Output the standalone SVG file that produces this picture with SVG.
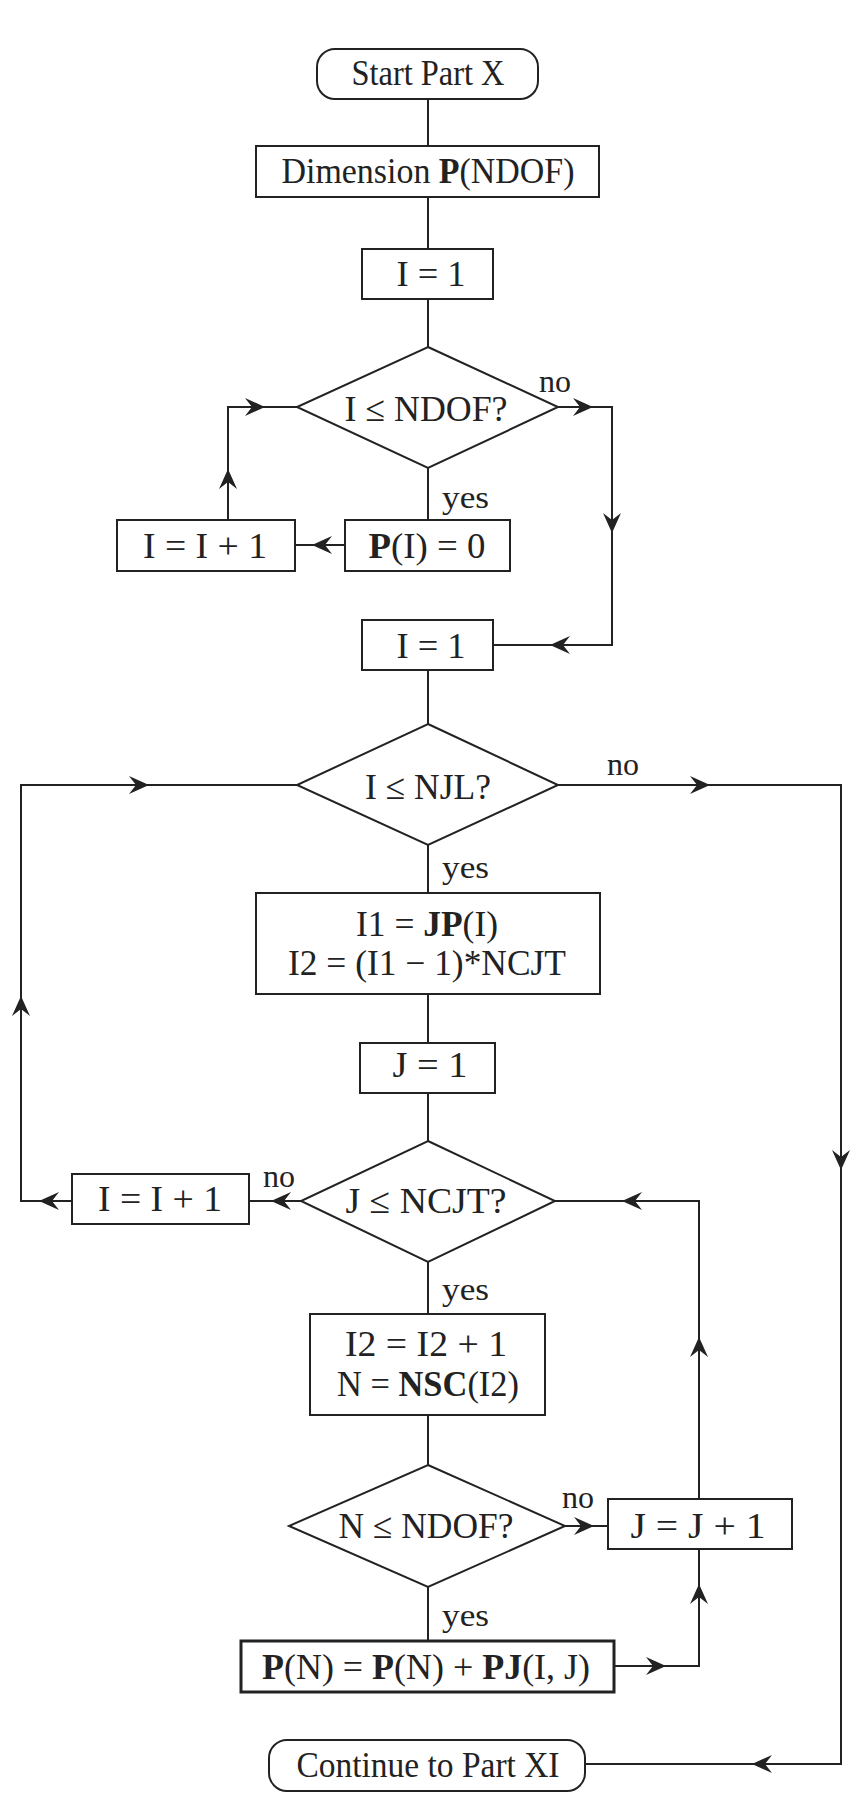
<svg xmlns="http://www.w3.org/2000/svg" xmlns:xlink="http://www.w3.org/1999/xlink" width="855" height="1796" viewBox="0 0 855 1796">
<style>
.s{fill:none;stroke:#222;stroke-width:2}
.t{font-family:"Liberation Serif",serif;font-size:36px;fill:#222;text-anchor:middle}
.l{font-family:"Liberation Serif",serif;font-size:32px;fill:#222}
.b{font-weight:bold}
</style>
<defs>
<path id="arr" d="M0,0 L-20,-9 L-13,0 L-20,9 Z" fill="#222"/>
</defs>
<rect width="855" height="1796" fill="#fff"/>
<g id="connectors" class="s">
<path d="M428,99V146M428,197V249M428,299V347"/>
<path d="M558,407H612V645H493"/>
<path d="M428,468V520M345,545H295M228,520V407H297"/>
<path d="M428,670V724"/>
<path d="M297,785H21V1201H72"/>
<path d="M558,785H841V1764H585"/>
<path d="M428,845V893M428,994V1043M428,1093V1141"/>
<path d="M301,1201H249"/>
<path d="M428,1262V1314M428,1415V1465M428,1587V1641"/>
<path d="M565,1526H608M699,1499V1201H555"/>
<path d="M614,1666H699V1549"/>
</g>
<g id="arrows">
<use xlink:href="#arr" transform="translate(593,407)"/>
<use xlink:href="#arr" transform="translate(612,533) rotate(90)"/>
<use xlink:href="#arr" transform="translate(550,645) rotate(180)"/>
<use xlink:href="#arr" transform="translate(312,545) rotate(180)"/>
<use xlink:href="#arr" transform="translate(228,469) rotate(-90)"/>
<use xlink:href="#arr" transform="translate(265,407)"/>
<use xlink:href="#arr" transform="translate(149,785)"/>
<use xlink:href="#arr" transform="translate(710,785)"/>
<use xlink:href="#arr" transform="translate(841,1170) rotate(90)"/>
<use xlink:href="#arr" transform="translate(21,996) rotate(-90)"/>
<use xlink:href="#arr" transform="translate(39,1201) rotate(180)"/>
<use xlink:href="#arr" transform="translate(271,1201) rotate(180)"/>
<use xlink:href="#arr" transform="translate(622,1201) rotate(180)"/>
<use xlink:href="#arr" transform="translate(699,1337) rotate(-90)"/>
<use xlink:href="#arr" transform="translate(594,1526)"/>
<use xlink:href="#arr" transform="translate(699,1584) rotate(-90)"/>
<use xlink:href="#arr" transform="translate(666,1666)"/>
<use xlink:href="#arr" transform="translate(752,1764) rotate(180)"/>
</g>
<g id="start"><rect class="s" x="317" y="49" width="221" height="50" rx="18"/><text class="t" x="428" y="85" textLength="153" lengthAdjust="spacingAndGlyphs">Start Part X</text></g>
<g id="dim"><rect class="s" x="256" y="146" width="343" height="51"/><text class="t" x="428" y="183" textLength="293" lengthAdjust="spacingAndGlyphs">Dimension <tspan class="b">P</tspan>(NDOF)</text></g>
<g id="i1a"><rect class="s" x="362" y="249" width="131" height="50"/><text class="t" x="431" y="286" textLength="69" lengthAdjust="spacingAndGlyphs">I = 1</text></g>
<g id="d1"><polygon class="s" points="428,347 558,407 428,468 297,407"/><text class="t" x="426" y="421" textLength="163" lengthAdjust="spacingAndGlyphs">I ≤ NDOF?</text></g>
<g id="p0"><rect class="s" x="345" y="520" width="165" height="51"/><text class="t" x="427" y="558" textLength="117" lengthAdjust="spacingAndGlyphs"><tspan class="b">P</tspan>(I) = 0</text></g>
<g id="inc1"><rect class="s" x="117" y="520" width="178" height="51"/><text class="t" x="205" y="558" textLength="124" lengthAdjust="spacingAndGlyphs">I = I + 1</text></g>
<g id="i1b"><rect class="s" x="362" y="620" width="131" height="50"/><text class="t" x="431" y="658" textLength="69" lengthAdjust="spacingAndGlyphs">I = 1</text></g>
<g id="d2"><polygon class="s" points="428,724 558,785 428,845 297,785"/><text class="t" x="428" y="799" textLength="126" lengthAdjust="spacingAndGlyphs">I ≤ NJL?</text></g>
<g id="box2"><rect class="s" x="256" y="893" width="344" height="101"/><text class="t" x="427" y="936" textLength="142" lengthAdjust="spacingAndGlyphs">I1 = <tspan class="b">JP</tspan>(I)</text><text class="t" x="427" y="975" textLength="278" lengthAdjust="spacingAndGlyphs">I2 = (I1 − 1)*NCJT</text></g>
<g id="j1"><rect class="s" x="360" y="1043" width="135" height="50"/><text class="t" x="430" y="1077" textLength="75" lengthAdjust="spacingAndGlyphs">J = 1</text></g>
<g id="d3"><polygon class="s" points="428,1141 555,1201 428,1262 301,1201"/><text class="t" x="426" y="1213" textLength="161" lengthAdjust="spacingAndGlyphs">J ≤ NCJT?</text></g>
<g id="inc2"><rect class="s" x="72" y="1174" width="177" height="50"/><text class="t" x="160" y="1211" textLength="124" lengthAdjust="spacingAndGlyphs">I = I + 1</text></g>
<g id="box3"><rect class="s" x="310" y="1314" width="235" height="101"/><text class="t" x="426" y="1356" textLength="162" lengthAdjust="spacingAndGlyphs">I2 = I2 + 1</text><text class="t" x="428" y="1396" textLength="182" lengthAdjust="spacingAndGlyphs">N = <tspan class="b">NSC</tspan>(I2)</text></g>
<g id="d4"><polygon class="s" points="428,1465 565,1526 428,1587 289,1526"/><text class="t" x="426" y="1538" textLength="175" lengthAdjust="spacingAndGlyphs">N ≤ NDOF?</text></g>
<g id="jinc"><rect class="s" x="608" y="1499" width="184" height="50"/><text class="t" x="698" y="1538" textLength="135" lengthAdjust="spacingAndGlyphs">J = J + 1</text></g>
<g id="pn"><rect class="s" style="stroke-width:3" x="241" y="1641" width="373" height="51"/><text class="t" x="426" y="1679" textLength="328" lengthAdjust="spacingAndGlyphs"><tspan class="b">P</tspan>(N) = <tspan class="b">P</tspan>(N) + <tspan class="b">PJ</tspan>(I, J)</text></g>
<g id="end"><rect class="s" x="269" y="1740" width="316" height="51" rx="18"/><text class="t" x="428" y="1777" textLength="263" lengthAdjust="spacingAndGlyphs">Continue to Part XI</text></g>
<g id="labels">
<text class="l" x="539" y="392" textLength="32" lengthAdjust="spacingAndGlyphs">no</text>
<text class="l" x="442" y="508" textLength="47" lengthAdjust="spacingAndGlyphs">yes</text>
<text class="l" x="607" y="775" textLength="32" lengthAdjust="spacingAndGlyphs">no</text>
<text class="l" x="442" y="878" textLength="47" lengthAdjust="spacingAndGlyphs">yes</text>
<text class="l" x="263" y="1187" textLength="32" lengthAdjust="spacingAndGlyphs">no</text>
<text class="l" x="442" y="1300" textLength="47" lengthAdjust="spacingAndGlyphs">yes</text>
<text class="l" x="562" y="1508" textLength="32" lengthAdjust="spacingAndGlyphs">no</text>
<text class="l" x="442" y="1626" textLength="47" lengthAdjust="spacingAndGlyphs">yes</text>
</g>
</svg>
